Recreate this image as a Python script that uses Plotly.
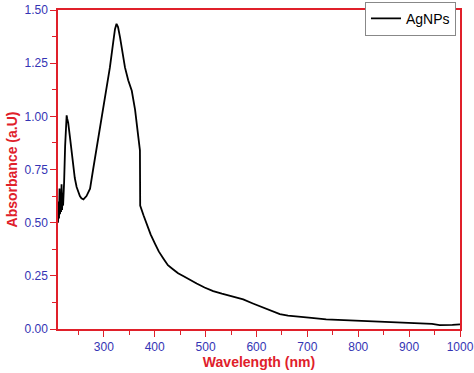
import plotly.graph_objects as go

wavelength = [210, 211, 212, 213, 214, 215, 216, 217, 218, 219, 220, 221, 222, 224, 226, 227, 228, 230,
              233.6, 237, 240, 243, 246.6, 250, 253, 256, 260, 266, 273, 279, 286, 292.5, 299, 305.6,
              312, 318.6, 322, 325, 328, 332, 337, 341.6, 348, 355, 361.5, 365, 368, 371, 371.5, 378,
              384, 392, 400.5, 408, 417, 426, 436.5, 446, 456, 469, 482.5, 498, 515, 532, 548, 561,
              574, 593, 613, 630, 646, 662, 678, 708, 737, 766, 796, 845, 894, 927, 945, 960, 970, 985, 1000]
absorbance = [0.50, 0.60, 0.52, 0.66, 0.54, 0.62, 0.55, 0.68, 0.56, 0.64, 0.58, 0.63, 0.69, 0.86, 0.98, 1.005, 0.99, 0.97,
              0.90, 0.82, 0.76, 0.71, 0.668, 0.64, 0.625, 0.615, 0.61, 0.625, 0.66, 0.75, 0.85, 0.96, 1.05, 1.13,
              1.23, 1.35, 1.41, 1.435, 1.42, 1.37, 1.30, 1.23, 1.17, 1.12, 1.03, 0.97, 0.90, 0.84, 0.58, 0.535,
              0.496, 0.445, 0.402, 0.365, 0.332, 0.30, 0.28, 0.262, 0.249, 0.23, 0.214, 0.195, 0.178, 0.166, 0.156, 0.148,
              0.139, 0.12, 0.10, 0.085, 0.07, 0.063, 0.058, 0.052, 0.045, 0.042, 0.039, 0.035, 0.03, 0.027, 0.024, 0.018, 0.017, 0.019, 0.022]

x_ticks = [300, 400, 500, 600, 700, 800, 900, 1000]
y_ticks = [0.00, 0.25, 0.50, 0.75, 1.00, 1.25, 1.50]
y_ticklabels = ["0.00", "0.25", "0.50", "0.75", "1.00", "1.25", "1.50"]

RED = "#e0202a"
BLUE = "#3434b4"
FONT = "Liberation Sans, Arial, sans-serif"

fig = go.Figure()
fig.add_trace(go.Scatter(x=wavelength, y=absorbance, mode="lines", name="AgNPs",
                         line=dict(color="black", width=1.8)))

fig.update_layout(
    width=474, height=373,
    margin=dict(l=58, r=14, t=10, b=44, autoexpand=False),
    paper_bgcolor="white", plot_bgcolor="white",
    font=dict(family=FONT),
    showlegend=True,
    legend=dict(xref="container", yref="container", x=0.962, y=0.995, xanchor="right", yanchor="top",
                bordercolor="#888888", borderwidth=1, bgcolor="white",
                font=dict(size=14, color="black", family=FONT),
                tracegroupgap=0, itemwidth=30),
    xaxis=dict(range=[210, 1000], tickvals=x_ticks, ticktext=[str(v) for v in x_ticks],
               showline=True, linecolor=RED, linewidth=1.5, mirror=True, automargin=False,
               ticks="outside", ticklen=6, tickcolor=RED, tickwidth=1.2,
               minor=dict(dtick=50, tick0=250, ticks="outside", ticklen=4, tickcolor=RED, tickwidth=1.2, showgrid=False),
               showgrid=False, zeroline=False,
               tickfont=dict(size=12, color=BLUE, family=FONT),
               title=dict(text="<b>Wavelength (nm)</b>", font=dict(size=14, color=RED, family=FONT), standoff=3)),
    yaxis=dict(range=[0, 1.5], tickvals=y_ticks, ticktext=y_ticklabels,
               showline=True, linecolor=RED, linewidth=1.5, mirror=True, automargin=False,
               ticks="outside", ticklen=6, tickcolor=RED, tickwidth=1.2,
               minor=dict(dtick=0.125, tick0=0, ticks="outside", ticklen=4, tickcolor=RED, tickwidth=1.2, showgrid=False),
               showgrid=False, zeroline=False,
               tickfont=dict(size=12, color=BLUE, family=FONT),
               title=dict(text="<b>Absorbance (a.U)</b>", font=dict(size=14, color=RED, family=FONT), standoff=4)),
)

fig.write_html("out.html", config={"displayModeBar": False},
               post_script="document.body.style.margin='0';")
